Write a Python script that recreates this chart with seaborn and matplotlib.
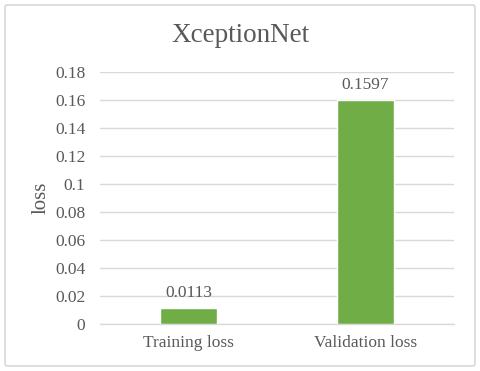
import matplotlib
matplotlib.use("Agg")
import matplotlib.pyplot as plt
import seaborn as sns
import pandas as pd
from matplotlib.patches import FancyBboxPatch

categories = ["Training loss", "Validation loss"]
values = [0.0113, 0.1597]
value_labels = ["0.0113", "0.1597"]
yticks = [0, 0.02, 0.04, 0.06, 0.08, 0.1, 0.12, 0.14, 0.16, 0.18]
ytick_labels = ["0", "0.02", "0.04", "0.06", "0.08", "0.1", "0.12", "0.14", "0.16", "0.18"]

sns.set_theme(style="white")
plt.rcParams['font.family'] = ['Liberation Serif', 'DejaVu Serif']

txt = "#595959"
grid = "#D9D9D9"
green = "#70AD47"

fig = plt.figure(figsize=(4.8, 3.71), dpi=100)
fig.patch.set_facecolor("white")
border = FancyBboxPatch((5/480, 5/371), 470/480, 361/371,
                        boxstyle="round,pad=0,rounding_size=0.005",
                        transform=fig.transFigure, facecolor="none",
                        edgecolor="#D0D0D0", linewidth=1.0, zorder=-1)
fig.patches.append(border)

ax = fig.add_axes([100/480, 1 - 324/371, 354/480, (324 - 72)/371])
ax.set_facecolor("none")

df = pd.DataFrame({"cat": categories, "val": values})
sns.barplot(data=df, x="cat", y="val", color=green, width=0.32, ax=ax,
            saturation=1, zorder=3)

ax.set_ylim(0, 0.18)
ax.set_yticks(yticks)
ax.set_yticklabels(ytick_labels)
ax.yaxis.grid(True, color=grid, linewidth=1.0, zorder=0)
ax.set_axisbelow(True)
for s in ["top", "right", "left"]:
    ax.spines[s].set_visible(False)
ax.spines["bottom"].set_color(grid)
ax.spines["bottom"].set_linewidth(1.0)
ax.tick_params(axis="both", length=0, colors=txt, labelsize=12.5)
ax.tick_params(axis="y", pad=10.5)
ax.tick_params(axis="x", pad=8)
ax.set_xlabel("")
ax.set_ylabel("loss", color=txt, fontsize=15)
ax.yaxis.set_label_coords(-0.14, 0.5)

for i, (v, lab) in enumerate(zip(values, value_labels)):
    ax.annotate(lab, (i, v), xytext=(0, 5), textcoords="offset points",
                ha="center", va="bottom", color=txt, fontsize=12.5)

fig.text(0.5, 1 - 35/371, "XceptionNet", ha="center", va="center",
         color=txt, fontsize=19.5)

fig.savefig("out.png", dpi=100, facecolor="white")
